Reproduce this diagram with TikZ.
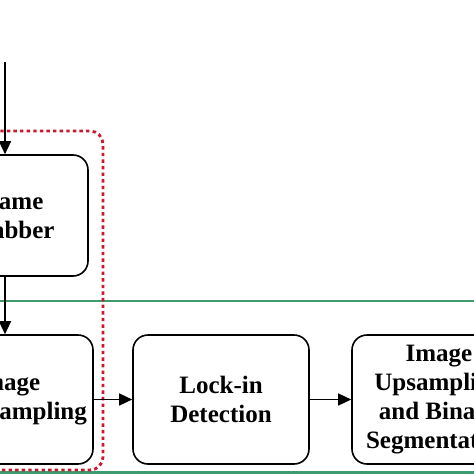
\documentclass[tikz,border=0pt]{standalone}
\usepackage{fontspec}
\setmainfont{Liberation Serif}
\usetikzlibrary{arrows.meta}
\definecolor{lineGreen}{RGB}{62,155,110}
\definecolor{dotRed}{RGB}{204,24,44}
\begin{document}
\begin{tikzpicture}[x=1pt,y=-1pt,
  blockbox/.style={draw=black, line width=1.6pt, rounded corners=15pt, align=center,
    font=\bfseries\fontsize{25}{29}\selectfont, inner sep=0pt},
  flow/.style={draw=black, line width=1.3pt, -{Triangle[length=13pt,width=12pt]}},
  greenline/.style={draw=lineGreen, line width=2.8pt},
  reddots/.style={draw=dotRed, line width=2.8pt, dash pattern=on 3.4pt off 3.2pt, rounded corners=13pt}]
\useasboundingbox (0,0) rectangle (474,474);
\clip (0,0) rectangle (474,474);
\fill[white] (0,0) rectangle (474,474);

% green separator lines
\coordinate (gl1) at (-5,301);
\coordinate (gr1) at (480,301);
\coordinate (gl2) at (-5,472.5);
\coordinate (gr2) at (480,472.5);
\draw[greenline] (gl1) -- (gr1);
\draw[greenline] (gl2) -- (gr2);

% red dotted group
\draw[reddots] (-120,131) rectangle (103,470);

% blocks
\node[blockbox, minimum width=160pt, minimum height=121pt] (fg) at (8,215.5) {Frame\\Grabber};
\node[blockbox, minimum width=172pt, minimum height=129pt] (ds) at (7,399.5) {Image\\Downsampling};
\node[blockbox, minimum width=176pt, minimum height=129pt] (li) at (221,399.5) {Lock-in\\Detection};
\node[blockbox, minimum width=174pt, minimum height=129pt] (up) at (439,399.5) {Image\\Upsampling\\and Binary\\Segmentation};

% connectors
\coordinate (in) at (5,62);
\draw[flow] (in) -- (in |- fg.north);
\draw[flow] (fg.south -| in) -- (ds.north -| in);
\draw[flow] (ds.east) -- (li.west);
\draw[flow] (li.east) -- (up.west);
\end{tikzpicture}
\end{document}
